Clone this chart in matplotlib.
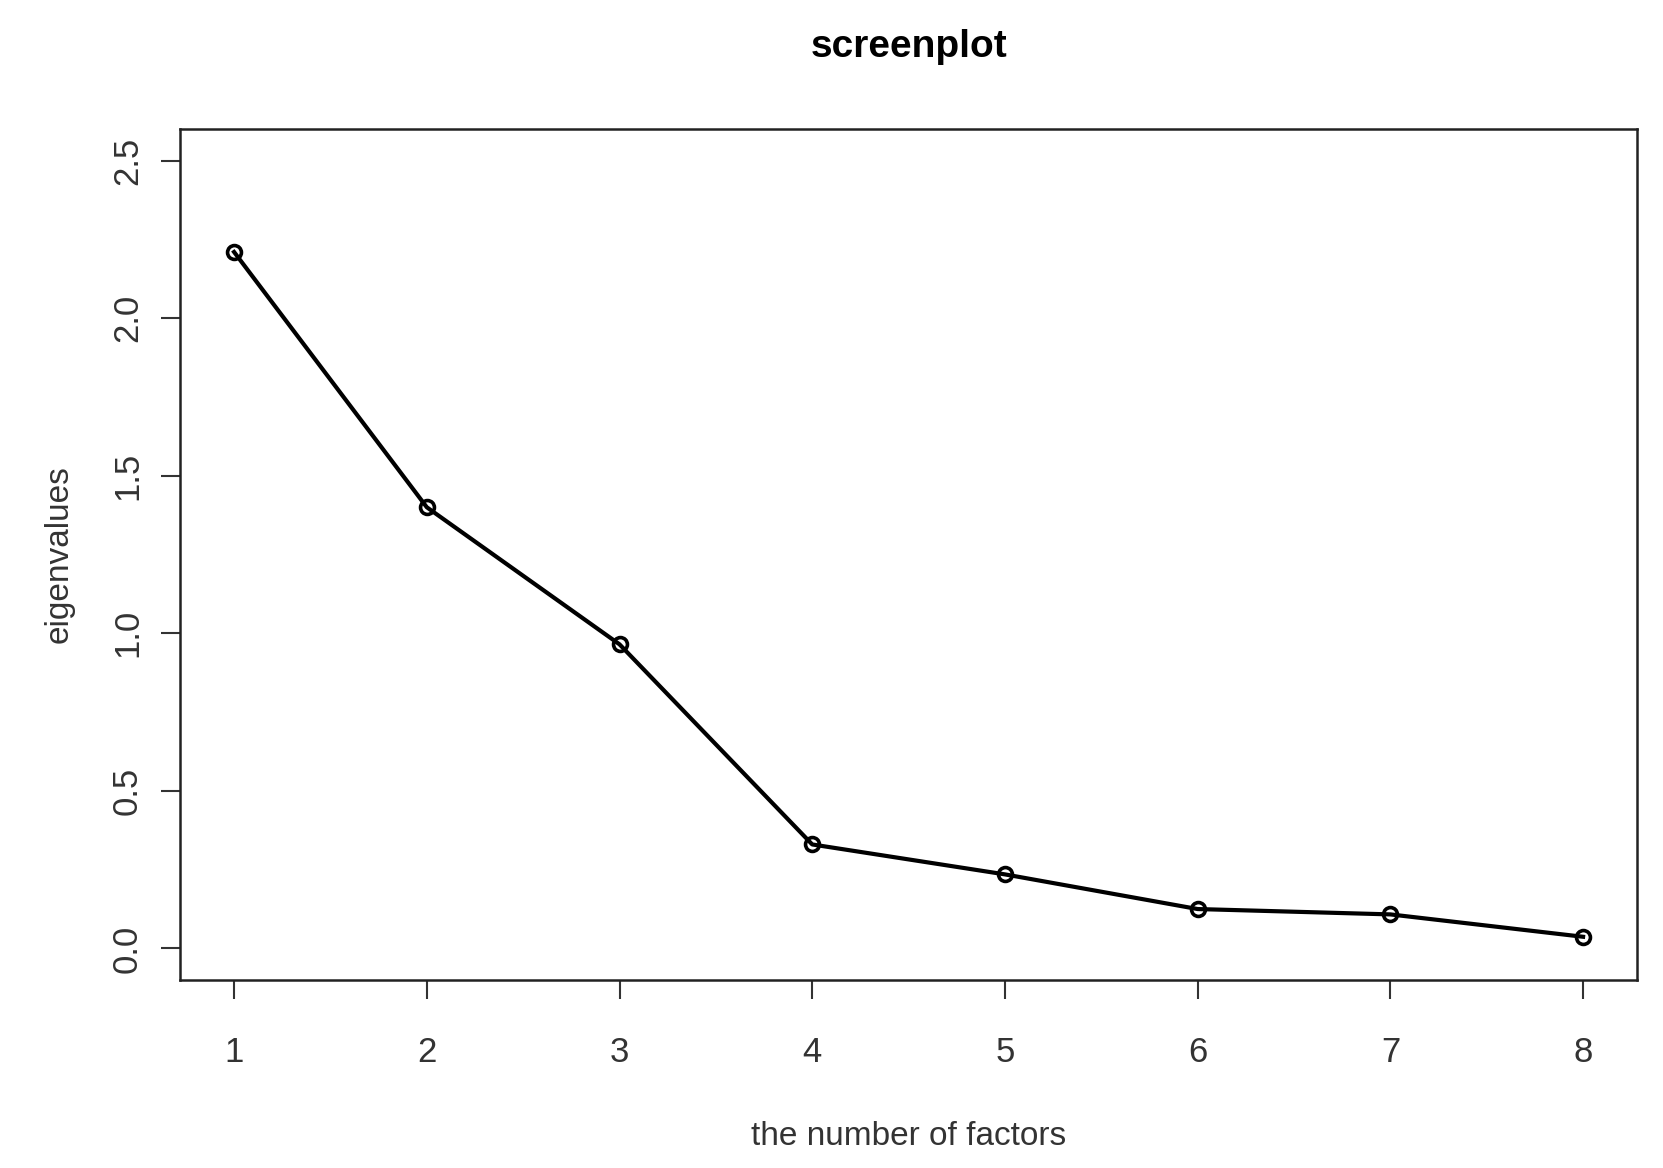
import matplotlib
matplotlib.use('Agg')
import matplotlib.pyplot as plt

# dados
fatores = [1, 2, 3, 4, 5, 6, 7, 8]
autovalores = [2.21, 1.40, 0.965, 0.33, 0.235, 0.125, 0.108, 0.037]
yticks = [0.0, 0.5, 1.0, 1.5, 2.0, 2.5]

plt.rcParams['font.family'] = ['Liberation Sans Narrow', 'Liberation Sans', 'DejaVu Sans']

fig = plt.figure(figsize=(16.63, 11.68), dpi=100)
ax = fig.add_axes([0.1083, 0.161, 0.8761, 0.7285])

ax.plot(fatores, autovalores, color='black', linewidth=3.0,
        marker='o', markersize=10, markerfacecolor='none',
        markeredgewidth=2.6, markeredgecolor='black')

ax.set_xlim(0.72, 8.28)
ax.set_ylim(-0.1, 2.6)
ax.set_xticks(fatores)
ax.set_yticks(yticks)
ax.set_yticklabels([f'{v:.1f}' for v in yticks], rotation=90, va='center')

ax.tick_params(axis='both', direction='out', length=14, width=1.5,
               color='#333333', labelsize=25, labelcolor='#333333')
ax.tick_params(axis='x', pad=26)
ax.tick_params(axis='y', pad=12)

for s in ax.spines.values():
    s.set_linewidth(1.8)
    s.set_color('#222222')

ax.set_xlabel('the number of factors', fontsize=24, color='#333333', labelpad=38)
ax.set_ylabel('eigenvalues', fontsize=24, color='#333333', labelpad=26)
ax.set_title('screenplot', fontsize=28, fontweight='bold', pad=52)

fig.savefig('out.png', dpi=100)
